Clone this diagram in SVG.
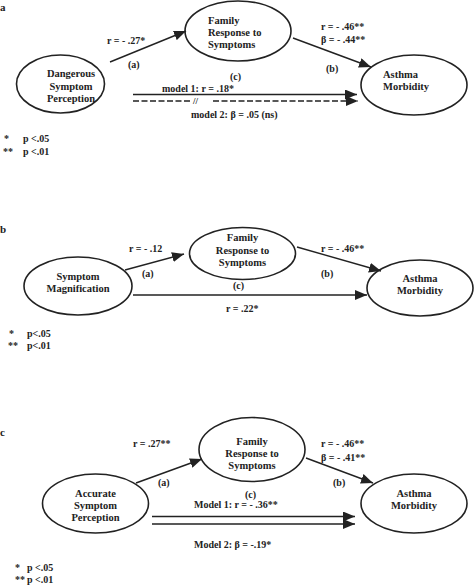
<svg xmlns="http://www.w3.org/2000/svg" width="474" height="586" viewBox="0 0 474 586">
<style>
  .bg{fill:#fff}
  .node{fill:#fff;stroke:#222;stroke-width:1.6}
  .t{font-family:"Liberation Serif","Times New Roman",serif;font-weight:bold;font-size:10.5px;fill:#222}
  .l{font-family:"Liberation Serif","Times New Roman",serif;font-weight:bold;font-size:10px;fill:#222}
  .c{text-anchor:middle}
  .edge{stroke:#222;stroke-width:1.4;fill:none}
  .dash{stroke-dasharray:6,2.5}
  .p{font-family:"Liberation Serif","Times New Roman",serif;font-weight:bold;font-size:11px;fill:#222}
</style>
<defs>
  <marker id="ah" markerUnits="userSpaceOnUse" markerWidth="12" markerHeight="10" refX="12" refY="5" orient="auto">
    <path d="M0,0 L12,5 L0,10 z" fill="#222"/>
  </marker>
</defs>
<rect class="bg" x="0" y="0" width="474" height="586"/>

<!-- Panel labels -->
<text class="p" x="0" y="11">a</text>
<text class="p" x="0" y="233">b</text>
<text class="p" x="0" y="436">c</text>

<!-- Panel a nodes -->
<g id="a-dsp">
  <ellipse class="node" cx="60.5" cy="84" rx="44" ry="29"/>
  <text class="t c" x="71" y="77">Dangerous</text>
  <text class="t c" x="71" y="90">Symptom</text>
  <text class="t c" x="71" y="102">Perception</text>
</g>
<g id="a-family">
  <ellipse class="node" cx="238" cy="31" rx="53" ry="30"/>
  <text class="t" x="208" y="24">Family</text>
  <text class="t" x="208" y="36">Response to</text>
  <text class="t" x="208" y="48">Symptoms</text>
</g>
<g id="a-asthma">
  <ellipse class="node" cx="414" cy="85" rx="53" ry="30"/>
  <text class="t" x="383" y="78">Asthma</text>
  <text class="t" x="383" y="90">Morbidity</text>
</g>

<!-- Panel b nodes -->
<g id="b-sm">
  <ellipse class="node" cx="78" cy="286" rx="54" ry="29"/>
  <text class="t c" x="78" y="280">Symptom</text>
  <text class="t c" x="78" y="292">Magnification</text>
</g>
<g id="b-family">
  <ellipse class="node" cx="242.5" cy="253.5" rx="53" ry="26"/>
  <text class="t c" x="242.5" y="241">Family</text>
  <text class="t c" x="242.5" y="254">Response to</text>
  <text class="t c" x="242.5" y="266">Symptoms</text>
</g>
<g id="b-asthma">
  <ellipse class="node" cx="420" cy="288" rx="53" ry="28"/>
  <text class="t c" x="420" y="282">Asthma</text>
  <text class="t c" x="420" y="294">Morbidity</text>
</g>

<!-- Panel c nodes -->
<g id="c-asp">
  <ellipse class="node" cx="95.5" cy="503.5" rx="53" ry="29.5"/>
  <text class="t c" x="95.5" y="497">Accurate</text>
  <text class="t c" x="95.5" y="509">Symptom</text>
  <text class="t c" x="95.5" y="521">Perception</text>
</g>
<g id="c-family">
  <ellipse class="node" cx="252" cy="449.5" rx="53" ry="32"/>
  <text class="t c" x="252" y="445">Family</text>
  <text class="t c" x="252" y="457">Response to</text>
  <text class="t c" x="252" y="469">Symptoms</text>
</g>
<g id="c-asthma">
  <ellipse class="node" cx="414" cy="503.5" rx="53" ry="29.5"/>
  <text class="t c" x="414" y="497">Asthma</text>
  <text class="t c" x="414" y="509">Morbidity</text>
</g>

<!-- Connectors -->
<g id="connectors">
  <!-- a -->
  <line class="edge" x1="110" y1="62" x2="186" y2="31" marker-end="url(#ah)"/>
  <line class="edge" x1="293" y1="38" x2="371" y2="67" marker-end="url(#ah)"/>
  <line class="edge" x1="133" y1="94.5" x2="357" y2="94.5" marker-end="url(#ah)"/>
  <line class="edge dash" x1="133" y1="101" x2="191" y2="101"/>
  <line class="edge dash" x1="213" y1="101" x2="358" y2="101" marker-end="url(#ah)"/>
  <!-- b -->
  <line class="edge" x1="125" y1="270" x2="184" y2="254" marker-end="url(#ah)"/>
  <line class="edge" x1="297" y1="247" x2="381" y2="271" marker-end="url(#ah)"/>
  <line class="edge" x1="133" y1="295" x2="367" y2="295" marker-end="url(#ah)"/>
  <!-- c -->
  <line class="edge" x1="136" y1="483" x2="202" y2="459" marker-end="url(#ah)"/>
  <line class="edge" x1="306" y1="458" x2="373" y2="483" marker-end="url(#ah)"/>
  <line class="edge" x1="152" y1="516.5" x2="355" y2="516.5" marker-end="url(#ah)"/>
  <line class="edge" x1="152" y1="524" x2="355" y2="524" marker-end="url(#ah)"/>
</g>

<!-- Panel a labels -->
<text class="l" x="107" y="44">r = - .27*</text>
<text class="l" x="128" y="68">(a)</text>
<text class="l" x="321" y="30">r = - .46**</text>
<text class="l" x="321" y="43">β = - .44**</text>
<text class="l" x="326" y="72">(b)</text>
<text class="l" x="230" y="80">(c)</text>
<text class="l" x="162" y="92">model 1: r = .18*</text>
<text class="l" x="193" y="104" style="font-size:9px">//</text>
<text class="l" x="191" y="118">model 2: β = .05 (ns)</text>
<text class="l" x="4" y="142">*</text>
<text class="l" x="23" y="142">p &lt;.05</text>
<text class="l" x="3" y="155">**</text>
<text class="l" x="23" y="155">p &lt;.01</text>

<!-- Panel b labels -->
<text class="l" x="129" y="252">r = - .12</text>
<text class="l" x="142" y="277">(a)</text>
<text class="l" x="321" y="252">r = - .46**</text>
<text class="l" x="321" y="277">(b)</text>
<text class="l" x="233" y="289">(c)</text>
<text class="l" x="226" y="312">r = .22*</text>
<text class="l" x="9" y="337">*</text>
<text class="l" x="27" y="337">p&lt;.05</text>
<text class="l" x="8" y="349">**</text>
<text class="l" x="27" y="349">p&lt;.01</text>

<!-- Panel c labels -->
<text class="l" x="133" y="447">r = .27**</text>
<text class="l" x="158" y="486">(a)</text>
<text class="l" x="321" y="447">r = - .46**</text>
<text class="l" x="321" y="461">β = - .41**</text>
<text class="l" x="333" y="486">(b)</text>
<text class="l" x="245" y="498">(c)</text>
<text class="l" x="194" y="508">Model 1: r = - .36**</text>
<text class="l" x="194" y="548">Model 2: β = -.19*</text>
<text class="l" x="15" y="571">*</text>
<text class="l" x="27" y="571">p &lt;.05</text>
<text class="l" x="15" y="583">**</text>
<text class="l" x="27" y="583">p &lt;.01</text>
</svg>
